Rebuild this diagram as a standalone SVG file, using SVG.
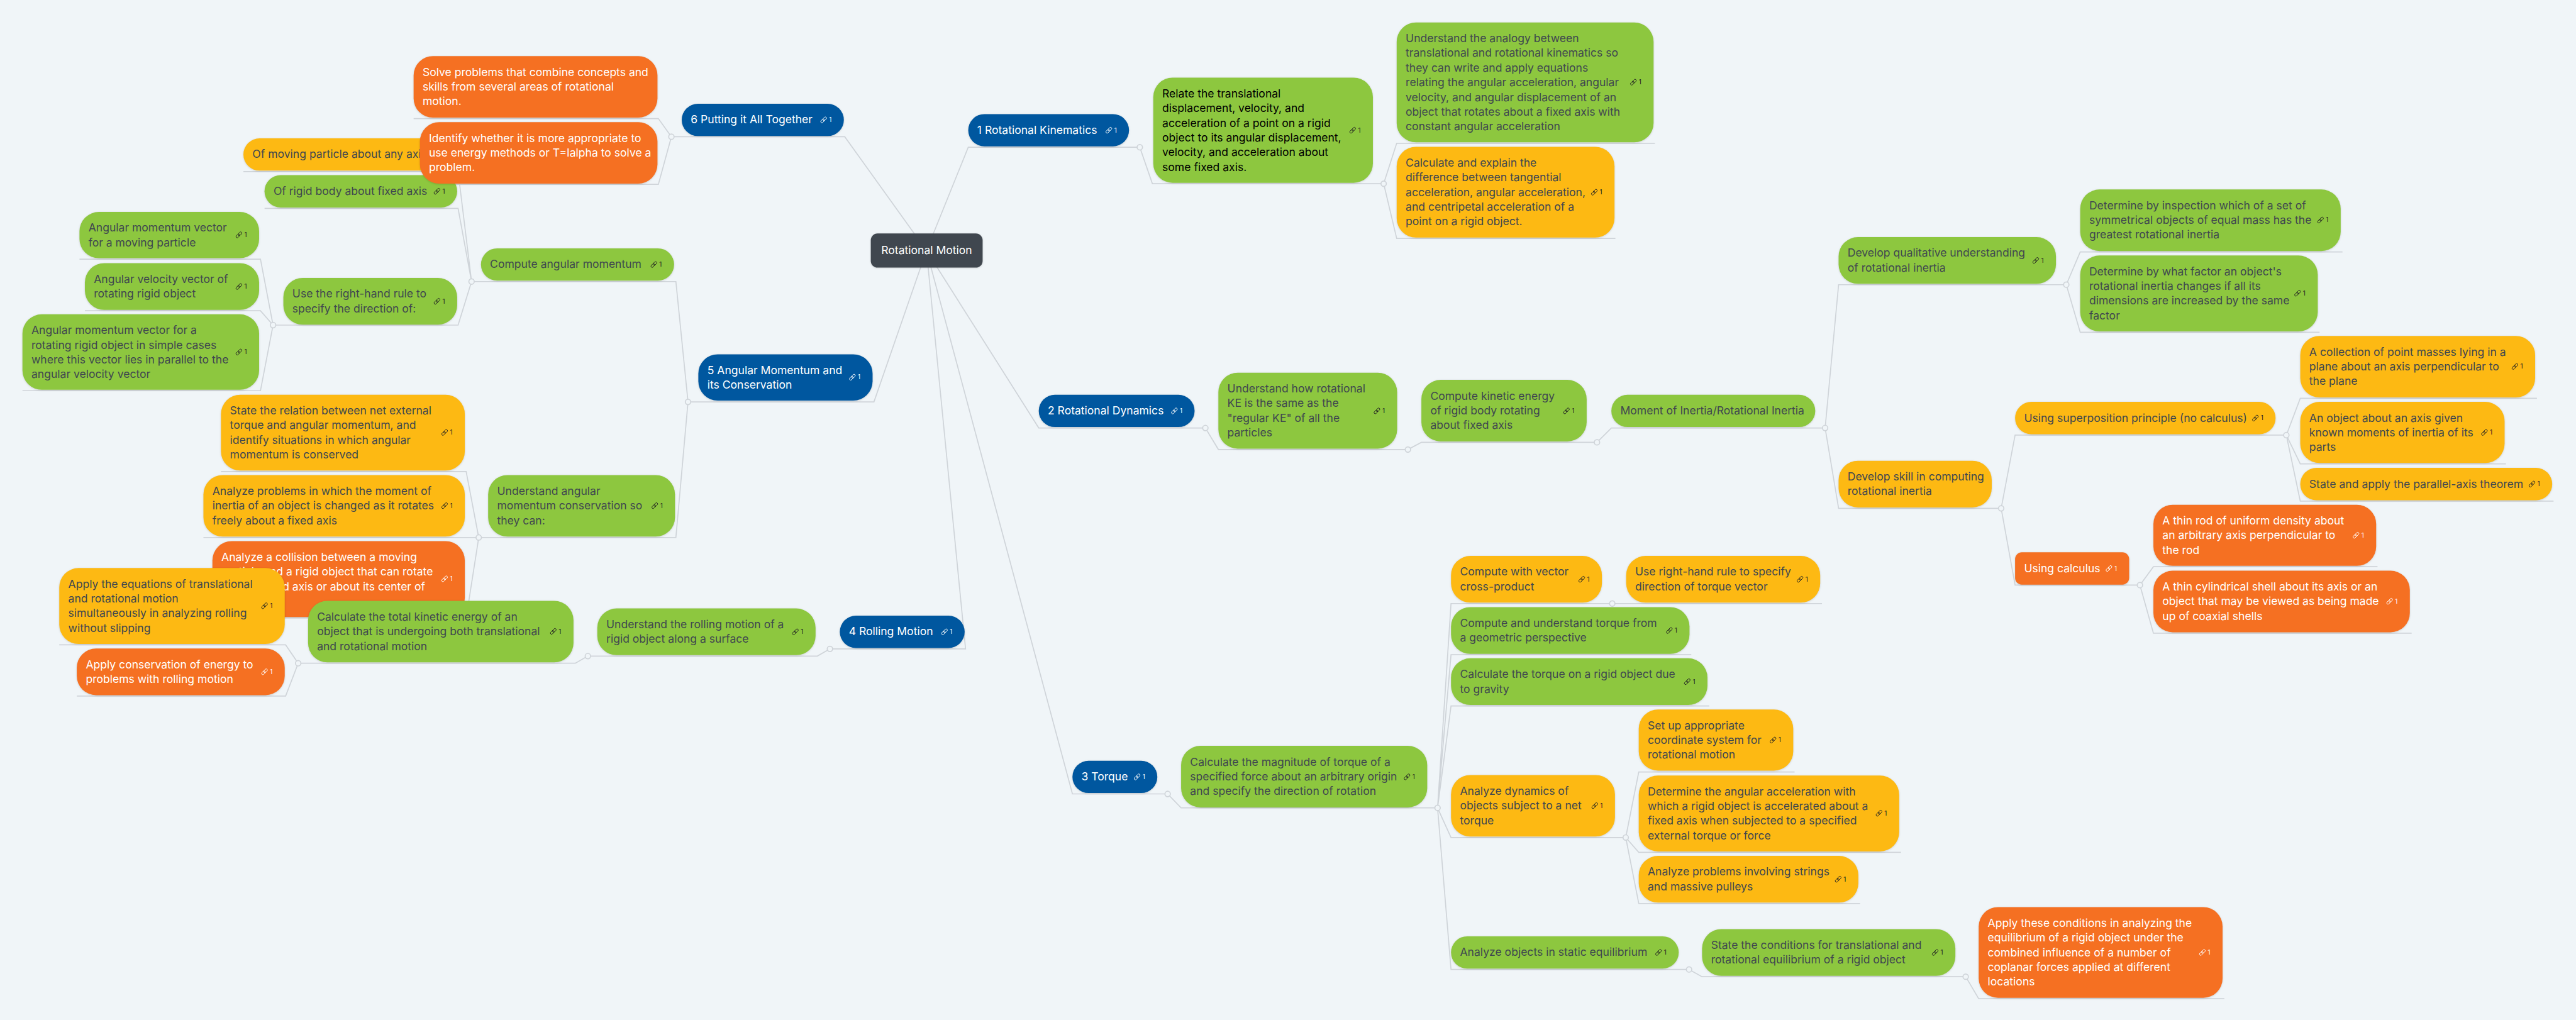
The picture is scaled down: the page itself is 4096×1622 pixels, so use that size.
<svg xmlns="http://www.w3.org/2000/svg" width="4096" height="1622" viewBox="0 0 4096 1622">
<style>
.node rect{filter:drop-shadow(0 1px 2px rgba(0,0,0,.16))}
.g rect{fill:#8dc73f}.y rect{fill:#fdb913}.o rect{fill:#f57022}.b rect{fill:#00579f}.c rect{fill:#40474f}
text{font-family:"Inter","Open Sans","Liberation Sans",sans-serif;font-size:24.6px;fill:#40474f}
.o text,.b text,.c text{fill:#fff}
.k text{fill:#000}
text.n{font-size:14px;fill:#222}
.o text.n,.b text.n{fill:#fff}
.lk{fill:none;stroke:#222;stroke-width:1.3}
.o .lk,.b .lk{stroke:#fff}
#connectors path{fill:none;stroke:#cfd4d9;stroke-width:2.4}
#connectors circle{fill:#f0f5f8;stroke:#cfd4d9;stroke-width:2.4}
</style>
<defs><g id="lk"><rect x="-8" y="-2.7" width="9.5" height="5.4" rx="2.7" transform="rotate(-45)"/><rect x="-1.5" y="-2.7" width="9.5" height="5.4" rx="2.7" transform="rotate(-45)"/></g></defs>
<rect width="4096" height="1622" fill="#f0f5f8"/>
<g transform="scale(0.71409)">
<g id="connectors">
<path d="M2063 558L1881 304.5H1495M921 264H1466L1495 304.5M935 410.6H1466L1495 304.5"/>
<path d="M2063 558L1946 895H1532M1050 627H1505L1532 895M1066 1197H1505L1532 895"/>
<path d="M542 382H1020L1050 627M589 464H1020L1050 627M608 724H1020L1050 627"/>
<path d="M177 577H580L608 724M189 692H580L608 724M50 870H580L608 724"/>
<path d="M492 1050H1038L1066 1197M453 1197H1066M473 1376H1038L1066 1197"/>
<path d="M2063 558L2150 1445H1848M1309 1461H1820L1848 1445M664 1477H1281L1309 1461M132 1436H636L664 1477M171 1550H636L664 1477"/>
<path d="M2063 558L2156 328H2538L2566 409H3081M3081 409L3110 319H3685M3081 409L3110 531H3597"/>
<path d="M2063 558L2313 953H2684L2713 1001H3135L3165 985H3556L3588 953H4064"/>
<path d="M4064 953L4094 634H4601M4064 953L4094 1132H4456M4601 634L4632 561H5216M4601 634L4632 740H5165"/>
<path d="M4456 1132L4487 969H5091M4456 1132L4487 1303H4765M5091 969L5122 887H5649M5091 969L5122 1033H5580M5091 969L5122 1116H5686M4765 1303L4795 1262H5294M4765 1303L4795 1410H5370"/>
<path d="M2063 558L2388 1768H2600L2630 1799H3201M3201 1799L3231 1344H4057M3201 1799L3231 1458H3766M3201 1799L3231 1572H3806M3201 1799L3231 1865H3620M3201 1799L3231 2159H3761"/>
<path d="M3620 1865L3649 1719H3996M3620 1865L3649 1898H4233M3620 1865L3649 2012H4142M3761 2159L3790 2175H4377L4406 2224H4953"/>
<circle cx="1495" cy="304.5" r="6"/><circle cx="1532" cy="895" r="6"/><circle cx="1050" cy="627" r="6"/><circle cx="608" cy="724" r="6"/><circle cx="1066" cy="1197" r="6"/><circle cx="1848" cy="1445" r="6"/><circle cx="1309" cy="1461" r="6"/><circle cx="664" cy="1477" r="6"/><circle cx="2538" cy="328" r="6"/><circle cx="3081" cy="409" r="6"/><circle cx="2684" cy="953" r="6"/><circle cx="3135" cy="1001" r="6"/><circle cx="3556" cy="985" r="6"/><circle cx="4064" cy="953" r="6"/><circle cx="4601" cy="634" r="6"/><circle cx="4456" cy="1132" r="6"/><circle cx="5091" cy="969" r="6"/><circle cx="4765" cy="1303" r="6"/><circle cx="2600" cy="1768" r="6"/><circle cx="3201" cy="1799" r="6"/><circle cx="3590" cy="1344" r="6"/><circle cx="3620" cy="1865" r="6"/><circle cx="3761" cy="2159" r="6"/><circle cx="4377" cy="2175" r="6"/>
</g>
<g id="n-of-moving" class="node y"><rect x="542" y="308" width="476" height="72" rx="36"/><text x="562" y="352">Of moving particle about any axis</text><use href="#lk" class="lk" x="973" y="344"/><text class="n" x="985" y="349">1</text></g>
<g id="n-of-rigid" class="node g"><rect x="589" y="390" width="429" height="72" rx="36"/><text x="609" y="434">Of rigid body about fixed axis</text><use href="#lk" class="lk" x="973" y="426"/><text class="n" x="985" y="431">1</text></g>
<g id="n-use-rhr" class="node g"><rect x="631" y="619" width="387" height="104" rx="43"/><text x="651" y="663"><tspan x="651">Use the right-hand rule to</tspan><tspan x="651" dy="32.7">specify the direction of:</tspan></text><use href="#lk" class="lk" x="973" y="671"/><text class="n" x="985" y="676">1</text></g>
<g id="n-am-moving" class="node g"><rect x="177" y="472" width="400" height="103" rx="43"/><text x="197" y="516"><tspan x="197">Angular momentum vector</tspan><tspan x="197" dy="32.7">for a moving particle</tspan></text><use href="#lk" class="lk" x="532" y="523"/><text class="n" x="544" y="528">1</text></g>
<g id="n-av-rotating" class="node g"><rect x="189" y="586" width="388" height="104" rx="43"/><text x="209" y="630"><tspan x="209">Angular velocity vector of</tspan><tspan x="209" dy="32.7">rotating rigid object</tspan></text><use href="#lk" class="lk" x="532" y="638"/><text class="n" x="544" y="643">1</text></g>
<g id="n-am-rotating" class="node g"><rect x="50" y="700" width="527" height="168" rx="43"/><text x="70" y="744"><tspan x="70">Angular momentum vector for a</tspan><tspan x="70" dy="32.7">rotating rigid object in simple cases</tspan><tspan x="70" dy="32.7">where this vector lies in parallel to the</tspan><tspan x="70" dy="32.7">angular velocity vector</tspan></text><use href="#lk" class="lk" x="532" y="784"/><text class="n" x="544" y="789">1</text></g>
<g id="n-compute-am" class="node g"><rect x="1071" y="553" width="430" height="72" rx="36"/><text x="1091" y="597">Compute angular momentum</text><use href="#lk" class="lk" x="1456" y="589"/><text class="n" x="1468" y="594">1</text></g>
<g id="n-topic5" class="node b"><rect x="1555" y="789" width="388" height="103" rx="43"/><text x="1575" y="833"><tspan x="1575">5 Angular Momentum and</tspan><tspan x="1575" dy="32.7">its Conservation</tspan></text><use href="#lk" class="lk" x="1898" y="840"/><text class="n" x="1910" y="845">1</text></g>
<g id="n-state-rel" class="node y"><rect x="492" y="879" width="543" height="169" rx="43"/><text x="512" y="923"><tspan x="512">State the relation between net external</tspan><tspan x="512" dy="32.7">torque and angular momentum, and</tspan><tspan x="512" dy="32.7">identify situations in which angular</tspan><tspan x="512" dy="32.7">momentum is conserved</tspan></text><use href="#lk" class="lk" x="990" y="963"/><text class="n" x="1002" y="968">1</text></g>
<g id="n-analyze-moi" class="node y"><rect x="453" y="1058" width="582" height="137" rx="43"/><text x="473" y="1102"><tspan x="473">Analyze problems in which the moment of</tspan><tspan x="473" dy="32.7">inertia of an object is changed as it rotates</tspan><tspan x="473" dy="32.7">freely about a fixed axis</tspan></text><use href="#lk" class="lk" x="990" y="1126"/><text class="n" x="1002" y="1131">1</text></g>
<g id="n-collision" class="node o"><rect x="473" y="1205" width="562" height="169" rx="43"/><text x="493" y="1249"><tspan x="493">Analyze a collision between a moving</tspan><tspan x="493" dy="32.7">particle and a rigid object that can rotate</tspan><tspan x="493" dy="32.7">about a fixed axis or about its center of</tspan><tspan x="493" dy="32.7">mass</tspan></text><use href="#lk" class="lk" x="990" y="1289"/><text class="n" x="1002" y="1294">1</text></g>
<g id="n-understand-am" class="node g"><rect x="1087" y="1058" width="416" height="137" rx="43"/><text x="1107" y="1102"><tspan x="1107">Understand angular</tspan><tspan x="1107" dy="32.7">momentum conservation so</tspan><tspan x="1107" dy="32.7">they can:</tspan></text><use href="#lk" class="lk" x="1458" y="1126"/><text class="n" x="1470" y="1131">1</text></g>
<g id="n-apply-eq" class="node y"><rect x="132" y="1265" width="502" height="169" rx="43"/><text x="152" y="1309"><tspan x="152">Apply the equations of translational</tspan><tspan x="152" dy="32.7">and rotational motion</tspan><tspan x="152" dy="32.7">simultaneously in analyzing rolling</tspan><tspan x="152" dy="32.7">without slipping</tspan></text><use href="#lk" class="lk" x="589" y="1349"/><text class="n" x="601" y="1354">1</text></g>
<g id="n-apply-cons" class="node o"><rect x="171" y="1444" width="463" height="104" rx="43"/><text x="191" y="1488"><tspan x="191">Apply conservation of energy to</tspan><tspan x="191" dy="32.7">problems with rolling motion</tspan></text><use href="#lk" class="lk" x="589" y="1496"/><text class="n" x="601" y="1501">1</text></g>
<g id="n-calc-total" class="node g"><rect x="686" y="1338" width="591" height="137" rx="43"/><text x="706" y="1382"><tspan x="706">Calculate the total kinetic energy of an</tspan><tspan x="706" dy="32.7">object that is undergoing both translational</tspan><tspan x="706" dy="32.7">and rotational motion</tspan></text><use href="#lk" class="lk" x="1232" y="1406"/><text class="n" x="1244" y="1411">1</text></g>
<g id="n-rolling" class="node g"><rect x="1330" y="1355" width="486" height="104" rx="43"/><text x="1350" y="1399"><tspan x="1350">Understand the rolling motion of a</tspan><tspan x="1350" dy="32.7">rigid object along a surface</tspan></text><use href="#lk" class="lk" x="1771" y="1407"/><text class="n" x="1783" y="1412">1</text></g>
<g id="n-topic4" class="node b"><rect x="1870" y="1371" width="278" height="72" rx="36"/><text x="1890" y="1415">4 Rolling Motion</text><use href="#lk" class="lk" x="2103" y="1407"/><text class="n" x="2115" y="1412">1</text></g>
<g id="n-topic6" class="node b"><rect x="1518" y="231" width="361" height="72" rx="36"/><text x="1538" y="275">6 Putting it All Together</text><use href="#lk" class="lk" x="1834" y="267"/><text class="n" x="1846" y="272">1</text></g>
<g id="n-solve" class="node o"><rect x="921" y="125" width="543" height="137" rx="43"/><text x="941" y="169"><tspan x="941">Solve problems that combine concepts and</tspan><tspan x="941" dy="32.7">skills from several areas of rotational</tspan><tspan x="941" dy="32.7">motion.</tspan></text></g>
<g id="n-identify" class="node o"><rect x="935" y="272" width="529" height="137" rx="43"/><text x="955" y="316"><tspan x="955">Identify whether it is more appropriate to</tspan><tspan x="955" dy="32.7">use energy methods or T=Ialpha to solve a</tspan><tspan x="955" dy="32.7">problem.</tspan></text></g>
<g id="n-root" class="node c"><rect x="1939" y="520" width="249" height="76" rx="15"/><text x="2063.5" y="566" text-anchor="middle">Rotational Motion</text></g>
<g id="n-topic1" class="node b"><rect x="2156" y="254" width="358" height="72" rx="36"/><text x="2176" y="298">1 Rotational Kinematics</text><use href="#lk" class="lk" x="2469" y="290"/><text class="n" x="2481" y="295">1</text></g>
<g id="n-relate" class="node g k"><rect x="2568" y="173" width="489" height="234" rx="43"/><text x="2588" y="217"><tspan x="2588">Relate the translational</tspan><tspan x="2588" dy="32.7">displacement, velocity, and</tspan><tspan x="2588" dy="32.7">acceleration of a point on a rigid</tspan><tspan x="2588" dy="32.7">object to its angular displacement,</tspan><tspan x="2588" dy="32.7">velocity, and acceleration about</tspan><tspan x="2588" dy="32.7">some fixed axis.</tspan></text><use href="#lk" class="lk" x="3012" y="290"/><text class="n" x="3024" y="295">1</text></g>
<g id="n-analogy" class="node g"><rect x="3110" y="50" width="572" height="267" rx="43"/><text x="3130" y="94"><tspan x="3130">Understand the analogy between</tspan><tspan x="3130" dy="32.7">translational and rotational kinematics so</tspan><tspan x="3130" dy="32.7">they can write and apply equations</tspan><tspan x="3130" dy="32.7">relating the angular acceleration, angular</tspan><tspan x="3130" dy="32.7">velocity, and angular displacement of an</tspan><tspan x="3130" dy="32.7">object that rotates about a fixed axis with</tspan><tspan x="3130" dy="32.7">constant angular acceleration</tspan></text><use href="#lk" class="lk" x="3637" y="183"/><text class="n" x="3649" y="188">1</text></g>
<g id="n-explain" class="node y"><rect x="3110" y="327" width="485" height="202" rx="43"/><text x="3130" y="371"><tspan x="3130">Calculate and explain the</tspan><tspan x="3130" dy="32.7">difference between tangential</tspan><tspan x="3130" dy="32.7">acceleration, angular acceleration,</tspan><tspan x="3130" dy="32.7">and centripetal acceleration of a</tspan><tspan x="3130" dy="32.7">point on a rigid object.</tspan></text><use href="#lk" class="lk" x="3550" y="428"/><text class="n" x="3562" y="433">1</text></g>
<g id="n-topic2" class="node b"><rect x="2313" y="879" width="347" height="72" rx="36"/><text x="2333" y="923">2 Rotational Dynamics</text><use href="#lk" class="lk" x="2615" y="915"/><text class="n" x="2627" y="920">1</text></g>
<g id="n-ke-same" class="node g"><rect x="2713" y="830" width="398" height="169" rx="43"/><text x="2733" y="874"><tspan x="2733">Understand how rotational</tspan><tspan x="2733" dy="32.7">KE is the same as the</tspan><tspan x="2733" dy="32.7">"regular KE" of all the</tspan><tspan x="2733" dy="32.7">particles</tspan></text><use href="#lk" class="lk" x="3066" y="915"/><text class="n" x="3078" y="920">1</text></g>
<g id="n-ke-compute" class="node g"><rect x="3165" y="846" width="368" height="137" rx="43"/><text x="3185" y="890"><tspan x="3185">Compute kinetic energy</tspan><tspan x="3185" dy="32.7">of rigid body rotating</tspan><tspan x="3185" dy="32.7">about fixed axis</tspan></text><use href="#lk" class="lk" x="3488" y="915"/><text class="n" x="3500" y="920">1</text></g>
<g id="n-moi" class="node g"><rect x="3588" y="879" width="454" height="72" rx="36"/><text x="3608" y="923">Moment of Inertia/Rotational Inertia</text></g>
<g id="n-qual" class="node g"><rect x="4094" y="528" width="484" height="104" rx="43"/><text x="4114" y="572"><tspan x="4114">Develop qualitative understanding</tspan><tspan x="4114" dy="32.7">of rotational inertia</tspan></text><use href="#lk" class="lk" x="4533" y="580"/><text class="n" x="4545" y="585">1</text></g>
<g id="n-skill" class="node y"><rect x="4094" y="1026" width="341" height="104" rx="43"/><text x="4114" y="1070"><tspan x="4114">Develop skill in computing</tspan><tspan x="4114" dy="32.7">rotational inertia</tspan></text></g>
<g id="n-inspect" class="node g"><rect x="4632" y="422" width="580" height="137" rx="43"/><text x="4652" y="466"><tspan x="4652">Determine by inspection which of a set of</tspan><tspan x="4652" dy="32.7">symmetrical objects of equal mass has the</tspan><tspan x="4652" dy="32.7">greatest rotational inertia</tspan></text><use href="#lk" class="lk" x="5167" y="490"/><text class="n" x="5179" y="495">1</text></g>
<g id="n-factor" class="node g"><rect x="4632" y="569" width="529" height="169" rx="43"/><text x="4652" y="613"><tspan x="4652">Determine by what factor an object's</tspan><tspan x="4652" dy="32.7">rotational inertia changes if all its</tspan><tspan x="4652" dy="32.7">dimensions are increased by the same</tspan><tspan x="4652" dy="32.7">factor</tspan></text><use href="#lk" class="lk" x="5116" y="653"/><text class="n" x="5128" y="658">1</text></g>
<g id="n-super" class="node y"><rect x="4487" y="895" width="580" height="72" rx="36"/><text x="4507" y="939">Using superposition principle (no calculus)</text><use href="#lk" class="lk" x="5022" y="931"/><text class="n" x="5034" y="936">1</text></g>
<g id="n-points" class="node y"><rect x="5122" y="748" width="523" height="137" rx="43"/><text x="5142" y="792"><tspan x="5142">A collection of point masses lying in a</tspan><tspan x="5142" dy="32.7">plane about an axis perpendicular to</tspan><tspan x="5142" dy="32.7">the plane</tspan></text><use href="#lk" class="lk" x="5600" y="816"/><text class="n" x="5612" y="821">1</text></g>
<g id="n-object" class="node y"><rect x="5122" y="895" width="455" height="136" rx="43"/><text x="5142" y="939"><tspan x="5142">An object about an axis given</tspan><tspan x="5142" dy="32.7">known moments of inertia of its</tspan><tspan x="5142" dy="32.7">parts</tspan></text><use href="#lk" class="lk" x="5532" y="963"/><text class="n" x="5544" y="968">1</text></g>
<g id="n-parallel" class="node y"><rect x="5122" y="1042" width="561" height="72" rx="36"/><text x="5142" y="1086">State and apply the parallel-axis theorem</text><use href="#lk" class="lk" x="5638" y="1078"/><text class="n" x="5650" y="1083">1</text></g>
<g id="n-calculus" class="node o"><rect x="4487" y="1230" width="254" height="72" rx="15"/><text x="4507" y="1274">Using calculus</text><use href="#lk" class="lk" x="4696" y="1266"/><text class="n" x="4708" y="1271">1</text></g>
<g id="n-rod" class="node o"><rect x="4795" y="1124" width="496" height="136" rx="43"/><text x="4815" y="1168"><tspan x="4815">A thin rod of uniform density about</tspan><tspan x="4815" dy="32.7">an arbitrary axis perpendicular to</tspan><tspan x="4815" dy="32.7">the rod</tspan></text><use href="#lk" class="lk" x="5246" y="1192"/><text class="n" x="5258" y="1197">1</text></g>
<g id="n-shell" class="node o"><rect x="4795" y="1271" width="571" height="137" rx="43"/><text x="4815" y="1315"><tspan x="4815">A thin cylindrical shell about its axis or an</tspan><tspan x="4815" dy="32.7">object that may be viewed as being made</tspan><tspan x="4815" dy="32.7">up of coaxial shells</tspan></text><use href="#lk" class="lk" x="5321" y="1339"/><text class="n" x="5333" y="1344">1</text></g>
<g id="n-topic3" class="node b"><rect x="2388" y="1694" width="189" height="72" rx="36"/><text x="2408" y="1738">3 Torque</text><use href="#lk" class="lk" x="2532" y="1730"/><text class="n" x="2544" y="1735">1</text></g>
<g id="n-magnitude" class="node g"><rect x="2630" y="1661" width="548" height="137" rx="43"/><text x="2650" y="1705"><tspan x="2650">Calculate the magnitude of torque of a</tspan><tspan x="2650" dy="32.7">specified force about an arbitrary origin</tspan><tspan x="2650" dy="32.7">and specify the direction of rotation</tspan></text><use href="#lk" class="lk" x="3133" y="1730"/><text class="n" x="3145" y="1735">1</text></g>
<g id="n-vector" class="node y"><rect x="3231" y="1238" width="336" height="104" rx="43"/><text x="3251" y="1282"><tspan x="3251">Compute with vector</tspan><tspan x="3251" dy="32.7">cross-product</tspan></text><use href="#lk" class="lk" x="3522" y="1290"/><text class="n" x="3534" y="1295">1</text></g>
<g id="n-rh-torque" class="node y"><rect x="3621" y="1238" width="432" height="104" rx="43"/><text x="3641" y="1282"><tspan x="3641">Use right-hand rule to specify</tspan><tspan x="3641" dy="32.7">direction of torque vector</tspan></text><use href="#lk" class="lk" x="4008" y="1290"/><text class="n" x="4020" y="1295">1</text></g>
<g id="n-geo" class="node g"><rect x="3231" y="1352" width="531" height="104" rx="43"/><text x="3251" y="1396"><tspan x="3251">Compute and understand torque from</tspan><tspan x="3251" dy="32.7">a geometric perspective</tspan></text><use href="#lk" class="lk" x="3717" y="1404"/><text class="n" x="3729" y="1409">1</text></g>
<g id="n-gravity" class="node g"><rect x="3231" y="1466" width="571" height="104" rx="43"/><text x="3251" y="1510"><tspan x="3251">Calculate the torque on a rigid object due</tspan><tspan x="3251" dy="32.7">to gravity</tspan></text><use href="#lk" class="lk" x="3757" y="1518"/><text class="n" x="3769" y="1523">1</text></g>
<g id="n-dynamics" class="node y"><rect x="3231" y="1726" width="365" height="137" rx="43"/><text x="3251" y="1770"><tspan x="3251">Analyze dynamics of</tspan><tspan x="3251" dy="32.7">objects subject to a net</tspan><tspan x="3251" dy="32.7">torque</tspan></text><use href="#lk" class="lk" x="3551" y="1794"/><text class="n" x="3563" y="1799">1</text></g>
<g id="n-coord" class="node y"><rect x="3649" y="1580" width="344" height="136" rx="43"/><text x="3669" y="1624"><tspan x="3669">Set up appropriate</tspan><tspan x="3669" dy="32.7">coordinate system for</tspan><tspan x="3669" dy="32.7">rotational motion</tspan></text><use href="#lk" class="lk" x="3948" y="1648"/><text class="n" x="3960" y="1653">1</text></g>
<g id="n-angacc" class="node y"><rect x="3649" y="1727" width="580" height="169" rx="43"/><text x="3669" y="1771"><tspan x="3669">Determine the angular acceleration with</tspan><tspan x="3669" dy="32.7">which a rigid object is accelerated about a</tspan><tspan x="3669" dy="32.7">fixed axis when subjected to a specified</tspan><tspan x="3669" dy="32.7">external torque or force</tspan></text><use href="#lk" class="lk" x="4184" y="1811"/><text class="n" x="4196" y="1816">1</text></g>
<g id="n-strings" class="node y"><rect x="3649" y="1906" width="489" height="104" rx="43"/><text x="3669" y="1950"><tspan x="3669">Analyze problems involving strings</tspan><tspan x="3669" dy="32.7">and massive pulleys</tspan></text><use href="#lk" class="lk" x="4093" y="1958"/><text class="n" x="4105" y="1963">1</text></g>
<g id="n-static" class="node g"><rect x="3231" y="2085" width="507" height="72" rx="36"/><text x="3251" y="2129">Analyze objects in static equilibrium</text><use href="#lk" class="lk" x="3693" y="2121"/><text class="n" x="3705" y="2126">1</text></g>
<g id="n-conditions" class="node g"><rect x="3790" y="2069" width="564" height="104" rx="43"/><text x="3810" y="2113"><tspan x="3810">State the conditions for translational and</tspan><tspan x="3810" dy="32.7">rotational equilibrium of a rigid object</tspan></text><use href="#lk" class="lk" x="4309" y="2121"/><text class="n" x="4321" y="2126">1</text></g>
<g id="n-apply-cond" class="node o"><rect x="4406" y="2020" width="543" height="202" rx="43"/><text x="4426" y="2064"><tspan x="4426">Apply these conditions in analyzing the</tspan><tspan x="4426" dy="32.7">equilibrium of a rigid object under the</tspan><tspan x="4426" dy="32.7">combined influence of a number of</tspan><tspan x="4426" dy="32.7">coplanar forces applied at different</tspan><tspan x="4426" dy="32.7">locations</tspan></text><use href="#lk" class="lk" x="4904" y="2121"/><text class="n" x="4916" y="2126">1</text></g>
</g>
</svg>
